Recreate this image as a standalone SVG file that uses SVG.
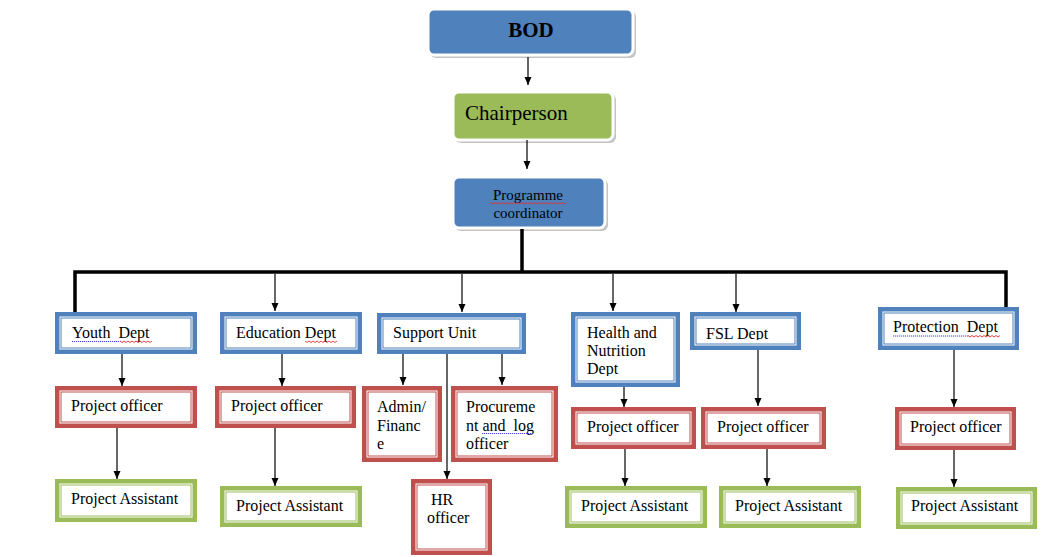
<svg xmlns="http://www.w3.org/2000/svg" width="1048" height="557" viewBox="0 0 1048 557">
<style>
text{font-family:"Liberation Serif","Times New Roman",serif;font-size:16px;fill:#000}
.ob{fill:#fff;stroke:#4F81BD;stroke-width:4.5}
.ib{fill:none;stroke:#4F81BD;stroke-width:1}
.or{fill:#fff;stroke:#C0504D;stroke-width:4.5}
.ir{fill:none;stroke:#C0504D;stroke-width:1}
.og{fill:#fff;stroke:#9BBB59;stroke-width:4.5}
.ig{fill:none;stroke:#9BBB59;stroke-width:1}
.arr{stroke:#000;stroke-width:1.2;fill:none;marker-end:url(#ah)}
.thick{stroke:#000;stroke-width:3.5;fill:none}
.sq-r{stroke:#E03030;stroke-width:0.9;fill:none}
.sq-b{stroke:#3030E0;stroke-width:0.9;fill:none;stroke-dasharray:1.2 0.8}
.shadow{fill:#c4c4c4}
</style>
<defs>
<marker id="ah" markerUnits="userSpaceOnUse" markerWidth="8" markerHeight="8" refX="8" refY="3.5" orient="auto">
<path d="M0,0 L8,3.5 L0,7 z" fill="#000"/>
</marker>
<clipPath id="clipH"><rect x="575" y="316" width="100" height="60"/></clipPath>
<clipPath id="clipF"><rect x="694" y="316" width="100" height="24"/></clipPath>
</defs>

<g id="bod">
<rect class="shadow" x="430" y="11" width="206" height="47" rx="6"/>
<rect x="428" y="9" width="205" height="46" rx="6" fill="#4F81BD" stroke="#fff" stroke-width="3"/>
<text x="531" y="37" text-anchor="middle" style="font-size:21px;font-weight:bold">BOD</text>
</g>
<g id="chairperson">
<rect class="shadow" x="455" y="94" width="161" height="49" rx="6"/>
<rect x="453" y="92" width="160" height="48" rx="6" fill="#9BBB59" stroke="#fff" stroke-width="3"/>
<text x="465" y="120" style="font-size:21px">Chairperson</text>
</g>
<g id="coordinator">
<rect class="shadow" x="455" y="179" width="153" height="52" rx="6"/>
<rect x="453" y="177" width="152" height="51" rx="6" fill="#4F81BD" stroke="#fff" stroke-width="3"/>
<text x="528" y="200" text-anchor="middle" style="font-size:15px">Programme</text>
<text x="528" y="218" text-anchor="middle" style="font-size:15px">coordinator</text>
<path class="sq-r" d="M490 202.5 l2 1.5 l2 -1.5 l2 1.5 l2 -1.5 l2 1.5 l2 -1.5 l2 1.5 l2 -1.5 l2 1.5 l2 -1.5 l2 1.5 l2 -1.5 l2 1.5 l2 -1.5 l2 1.5 l2 -1.5 l2 1.5 l2 -1.5 l2 1.5 l2 -1.5 l2 1.5 l2 -1.5 l2 1.5 l2 -1.5 l2 1.5 l2 -1.5 l2 1.5 l2 -1.5 l2 1.5 l2 -1.5 l2 1.5 l2 -1.5 l2 1.5 l2 -1.5 l2 1.5 l2 -1.5 l2 1.5 l2 -1.5"/>
</g>

<g id="connectors">
<line class="arr" x1="528" y1="57" x2="528" y2="85"/>
<line class="arr" x1="527" y1="140" x2="527" y2="169"/>
<polyline class="thick" points="522,229 522,272"/>
<polyline class="thick" points="75,312 75,272 1006,272 1006,307"/>
<line class="arr" x1="275" y1="274" x2="275" y2="311"/>
<line class="arr" x1="462" y1="274" x2="462" y2="312"/>
<line class="arr" x1="613" y1="274" x2="613" y2="311"/>
<line class="arr" x1="736" y1="274" x2="736" y2="312"/>
<line class="arr" x1="122" y1="354" x2="122" y2="386"/>
<line class="arr" x1="282" y1="354" x2="282" y2="386"/>
<line class="arr" x1="403" y1="354" x2="403" y2="385"/>
<line class="arr" x1="502" y1="354" x2="502" y2="385"/>
<line class="arr" x1="447" y1="354" x2="447" y2="479"/>
<line class="arr" x1="624" y1="387" x2="624" y2="407"/>
<line class="arr" x1="758" y1="350" x2="758" y2="406"/>
<line class="arr" x1="954" y1="350" x2="954" y2="407"/>
<line class="arr" x1="117" y1="428" x2="117" y2="479"/>
<line class="arr" x1="275" y1="428" x2="275" y2="486"/>
<line class="arr" x1="625" y1="449" x2="625" y2="486"/>
<line class="arr" x1="767" y1="449" x2="767" y2="486"/>
<line class="arr" x1="954" y1="450" x2="954" y2="487"/>
</g>

<g id="youth-dept">
<rect class="ob" x="57.25" y="314.25" width="137.5" height="37.5"/>
<rect class="ib" x="61" y="318" width="130" height="30"/>
<text x="72" y="338" xml:space="preserve">Youth  Dept</text>
<path class="sq-b" d="M72 341.5 H121"/>
<path class="sq-r" d="M120 341 l2 1.5 l2 -1.5 l2 1.5 l2 -1.5 l2 1.5 l2 -1.5 l2 1.5 l2 -1.5 l2 1.5 l2 -1.5 l2 1.5 l2 -1.5 l2 1.5 l2 -1.5 l2 1.5 l2 -1.5"/>
</g>
<g id="education-dept">
<rect class="ob" x="222.25" y="314.25" width="137.5" height="37.5"/>
<rect class="ib" x="226" y="318" width="130" height="30"/>
<text x="236" y="338">Education Dept</text>
<path class="sq-r" d="M305 341 l2 1.5 l2 -1.5 l2 1.5 l2 -1.5 l2 1.5 l2 -1.5 l2 1.5 l2 -1.5 l2 1.5 l2 -1.5 l2 1.5 l2 -1.5 l2 1.5 l2 -1.5 l2 1.5 l2 -1.5"/>
</g>
<g id="support-unit">
<rect class="ob" x="379.25" y="315.25" width="144.5" height="36.5"/>
<rect class="ib" x="383" y="319" width="137" height="29"/>
<text x="393" y="338">Support Unit</text>
</g>
<g id="health-dept">
<rect class="ob" x="573.25" y="314.25" width="104.5" height="70.5"/>
<rect class="ib" x="577" y="318" width="97" height="63"/>
<g clip-path="url(#clipH)">
<text x="587" y="338">Health and</text>
<text x="587" y="356">Nutrition</text>
<text x="587" y="374">Dept</text>
</g>
</g>
<g id="fsl-dept">
<rect class="ob" x="692.25" y="314.25" width="106.5" height="33.5"/>
<rect class="ib" x="696" y="318" width="99" height="26"/>
<g clip-path="url(#clipF)">
<text x="706" y="339">FSL Dept</text>
</g>
</g>
<g id="protection-dept">
<rect class="ob" x="880.25" y="309.25" width="136.5" height="38.5"/>
<rect class="ib" x="884" y="313" width="129" height="31"/>
<text x="893" y="332" xml:space="preserve">Protection  Dept</text>
<path class="sq-b" d="M893 336 H968"/>
<path class="sq-r" d="M968 335.5 l2 1.5 l2 -1.5 l2 1.5 l2 -1.5 l2 1.5 l2 -1.5 l2 1.5 l2 -1.5 l2 1.5 l2 -1.5 l2 1.5 l2 -1.5 l2 1.5 l2 -1.5 l2 1.5 l2 -1.5"/>
</g>

<g id="po-youth">
<rect class="or" x="57.25" y="388.25" width="137.5" height="37.5"/>
<rect class="ir" x="61" y="392" width="130" height="30"/>
<text x="71" y="411">Project officer</text>
</g>
<g id="po-education">
<rect class="or" x="217.25" y="388.25" width="136.5" height="37.5"/>
<rect class="ir" x="221" y="392" width="129" height="30"/>
<text x="231" y="411">Project officer</text>
</g>
<g id="admin-finance">
<rect class="or" x="364.25" y="388.25" width="75.5" height="71.5"/>
<rect class="ir" x="368" y="392" width="68" height="64"/>
<text x="377" y="412">Admin/</text>
<text x="377" y="431">Financ</text>
<text x="377" y="449">e</text>
</g>
<g id="procurement">
<rect class="or" x="453.25" y="388.25" width="102.5" height="71.5"/>
<rect class="ir" x="457" y="392" width="95" height="64"/>
<text x="466" y="412">Procureme</text>
<text x="466" y="431" xml:space="preserve">nt and  log</text>
<text x="466" y="449">officer</text>
<path class="sq-b" d="M482 433.5 H533"/>
</g>
<g id="hr-officer">
<rect class="or" x="413.25" y="481.25" width="76.5" height="71.5"/>
<rect class="ir" x="417" y="485" width="69" height="64"/>
<text x="431" y="505">HR</text>
<text x="427" y="523">officer</text>
</g>
<g id="po-health">
<rect class="or" x="573.25" y="409.25" width="120.5" height="37.5"/>
<rect class="ir" x="577" y="413" width="113" height="30"/>
<text x="587" y="432">Project officer</text>
</g>
<g id="po-fsl">
<rect class="or" x="703.25" y="409.25" width="120.5" height="37.5"/>
<rect class="ir" x="707" y="413" width="113" height="30"/>
<text x="717" y="432">Project officer</text>
</g>
<g id="po-protection">
<rect class="or" x="897.25" y="409.25" width="116.5" height="38.5"/>
<rect class="ir" x="901" y="413" width="109" height="31"/>
<text x="910" y="432">Project officer</text>
</g>

<g id="pa-youth">
<rect class="og" x="57.25" y="481.25" width="137.5" height="38.5"/>
<rect class="ig" x="61" y="485" width="130" height="31"/>
<text x="71" y="504">Project Assistant</text>
</g>
<g id="pa-education">
<rect class="og" x="222.25" y="488.25" width="137.5" height="36.5"/>
<rect class="ig" x="226" y="492" width="130" height="29"/>
<text x="236" y="511">Project Assistant</text>
</g>
<g id="pa-health">
<rect class="og" x="567.25" y="488.25" width="137.5" height="37.5"/>
<rect class="ig" x="571" y="492" width="130" height="30"/>
<text x="581" y="511">Project Assistant</text>
</g>
<g id="pa-fsl">
<rect class="og" x="721.25" y="488.25" width="137.5" height="37.5"/>
<rect class="ig" x="725" y="492" width="130" height="30"/>
<text x="735" y="511">Project Assistant</text>
</g>
<g id="pa-protection">
<rect class="og" x="898.25" y="489.25" width="136.5" height="37.5"/>
<rect class="ig" x="902" y="493" width="129" height="30"/>
<text x="911" y="511">Project Assistant</text>
</g>
</svg>
